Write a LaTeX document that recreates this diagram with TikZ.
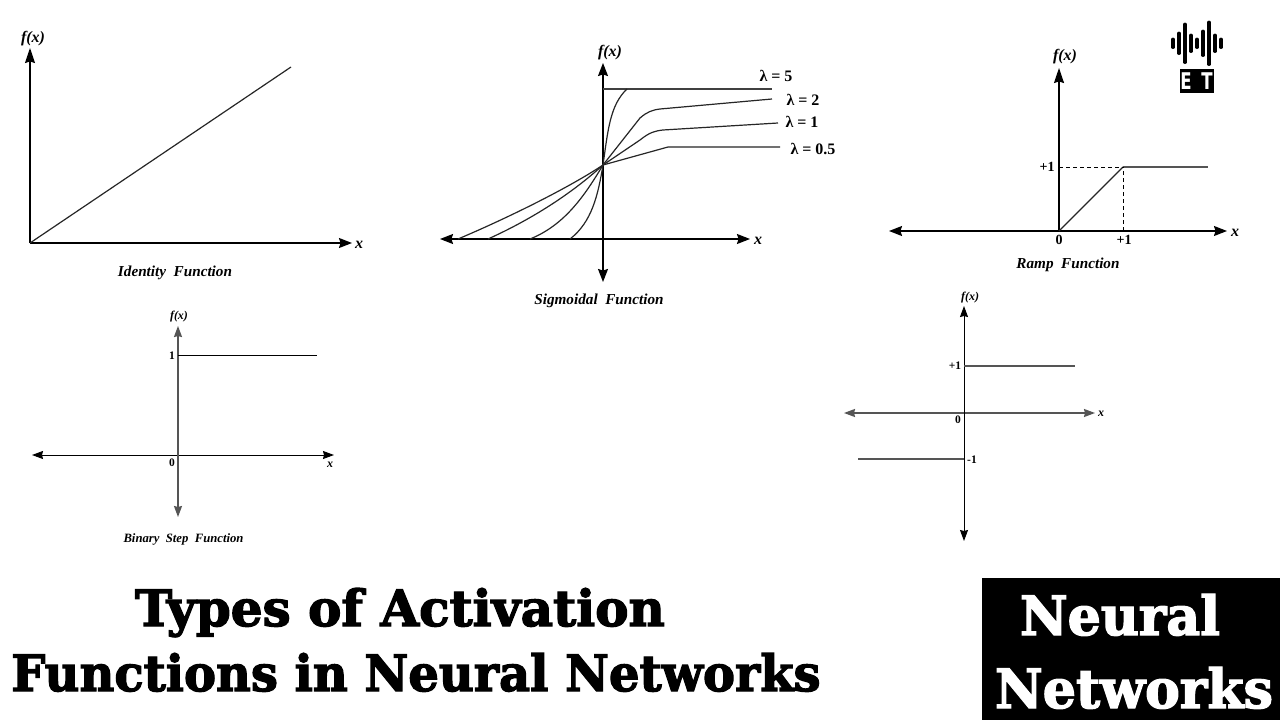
\documentclass[tikz,border=0pt]{standalone}
\usepackage{fontspec}
\setmainfont{Liberation Serif}
\newfontfamily\titlef[FakeBold=2.6]{DejaVu Serif Bold}
\newfontfamily\logof{DejaVu Sans Bold}
\usetikzlibrary{arrows.meta}
\definecolor{greyline}{HTML}{555555}
\tikzset{
  tipA/.tip={Stealth[length=13pt,width=10pt,inset=1.5pt]},
  tipB/.tip={Stealth[length=15pt,width=10pt,inset=1.5pt]},
  tipC/.tip={Stealth[length=11pt,width=8pt,inset=1pt]},
  axisboth/.style={draw=black,line width=1.3pt,tipA-tipA},
  axisup/.style={draw=black,line width=1.3pt,-tipB},
  axisr/.style={draw=black,line width=1.3pt,-tipA},
  axisg/.style={draw=greyline,line width=1.6pt,tipC-tipC},
  axisthin/.style={draw=black,line width=.9pt,tipC-tipC},
  curveline/.style={draw=black!85,line width=1.2pt},
  flatline/.style={draw=greyline,line width=1.4pt},
  guideline/.style={draw=black,line width=1pt,dash pattern=on 4pt off 3pt},
  captext/.style={font=\bfseries\itshape\fontsize{15.2}{15}\selectfont,inner sep=0pt},
  smallcap/.style={font=\bfseries\itshape\fontsize{12.7}{13}\selectfont,inner sep=0pt},
  labtext/.style={font=\bfseries\itshape\fontsize{16}{16}\selectfont,inner sep=0pt},
  smalllab/.style={font=\bfseries\itshape\fontsize{12}{12}\selectfont,inner sep=0pt},
  numtext/.style={font=\bfseries\fontsize{14}{14}\selectfont,inner sep=0pt},
  smallnum/.style={font=\bfseries\fontsize{11.5}{12}\selectfont,inner sep=0pt},
  lamtext/.style={font=\bfseries\fontsize{16}{16}\selectfont,inner sep=0pt},
  logobar/.style={draw=black,line width=3.4pt,line cap=round},
  logotext/.style={font=\logof\fontsize{23}{23}\selectfont,text=white,inner sep=0pt,xscale=.72,transform shape},
  titletext/.style={font=\titlef\fontsize{50}{50}\selectfont,text=black,inner sep=0pt,anchor=base,transform shape},
  boxtext/.style={font=\titlef\fontsize{54}{54}\selectfont,text=white,inner sep=0pt,anchor=base,xscale=.967,transform shape},
}
\begin{document}
\begin{tikzpicture}[x=1pt,y=-1pt]
\useasboundingbox (0,0) rectangle (1280,720);
\fill[white] (0,0) rectangle (1280,720);

% Identity
\coordinate (iO) at (30,243); \coordinate (iT) at (30,48); \coordinate (iR) at (352,243); \coordinate (iE) at (291,67);
\draw[axisup] (iO) -- (iT);
\draw[axisr] (iO) -- (iR);
\draw[curveline] (iO) -- (iE);
\node[labtext] (ifx) at (33,39) {f(x)};
\node[labtext] (ix) at (359,245) {x};
\node[captext] (icap) at (175,272.5) {Identity\ \ Function};

% Sigmoid
\coordinate (sO) at (603,165); \coordinate (sT) at (603,63); \coordinate (sB) at (603,282);
\coordinate (sL) at (440,239); \coordinate (sR) at (750,239);
\draw[axisboth] (sL) -- (sR);
\draw[axisboth] (sB) -- (sT);
\coordinate (a5) at (603,89); \coordinate (b5) at (772,89);
\draw[flatline,draw=black!75] (a5) -- (b5);
\coordinate (c5a) at (570,239); \coordinate (c5b) at (627,89);
\draw[curveline] (c5a) .. controls (592,222) and (598,195) .. (sO) .. controls (608,130) and (610,105) .. (c5b);
\coordinate (c2a) at (530,239); \coordinate (c2b) at (660,109); \coordinate (c2c) at (772,99);
\draw[curveline] (c2a) .. controls (565,225) and (585,195) .. (sO) -- (640,118) .. controls (647,112) and (652,110) .. (c2b) -- (c2c);
\coordinate (c1a) at (488,239); \coordinate (c1b) at (663,130); \coordinate (c1c) at (778,123);
\draw[curveline] (c1a) .. controls (530,220) and (570,195) .. (sO) -- (640,140) .. controls (650,132) and (655,131) .. (c1b) -- (c1c);
\coordinate (c0a) at (458,239); \coordinate (c0b) at (668,147); \coordinate (c0c) at (780,147);
\draw[curveline] (c0a) .. controls (510,217) and (570,187) .. (sO) -- (c0b) -- (c0c);
\node[labtext] (sfx) at (610,52.5) {f(x)};
\node[labtext] (sx) at (758,241) {x};
\node[lamtext] (l5) at (776,76) {λ = 5};
\node[lamtext] (l2) at (803,100) {λ = 2};
\node[lamtext] (l1) at (802,122) {λ = 1};
\node[lamtext] (l0) at (813,149) {λ = 0.5};
\node[captext] (scap) at (599,300.5) {Sigmoidal\ \ Function};

% Ramp
\coordinate (rO) at (1059,231); \coordinate (rT) at (1059,68); \coordinate (rL) at (889,231); \coordinate (rR) at (1227,231);
\coordinate (rK) at (1123,167); \coordinate (rY) at (1059,167); \coordinate (rX) at (1123,231); \coordinate (rE) at (1208,167);
\draw[axisboth] (rL) -- (rR);
\draw[axisup] (rO) -- (rT);
\draw[curveline] (rO) -- (rK);
\draw[flatline] (rK) -- (rE);
\draw[guideline] (rY) -- (rK);
\draw[guideline] (rX) -- (rK);
\node[labtext] (rfx) at (1065,57) {f(x)};
\node[labtext] (rx) at (1235,233) {x};
\node[numtext] (rp1) at (1047,167) {+1};
\node[numtext] (r0) at (1059,240) {0};
\node[numtext] (rq1) at (1124,240) {+1};
\node[captext] (rcap) at (1068,265) {Ramp\ \ Function};

% Binary step
\coordinate (bO) at (178,455); \coordinate (bT) at (178,326); \coordinate (bB) at (178,517);
\coordinate (bL) at (32,455); \coordinate (bR) at (334,455); \coordinate (bY) at (178,355); \coordinate (bE) at (317,355);
\draw[axisthin] (bL) -- (bR);
\draw[axisg] (bB) -- (bT);
\draw[draw=black,line width=1pt] (bY) -- (bE);
\node[smalllab] (bfx) at (179,316.5) {f(x)};
\node[smalllab] (bx) at (330,465) {x};
\node[smallnum] (b1) at (172,356) {1};
\node[smallnum] (b0) at (172,463) {0};
\node[smallcap] (bcap) at (183.5,539.5) {Binary\ \ Step\ \ Function};

% Signum
\coordinate (gO) at (964,413); \coordinate (gT) at (964,306); \coordinate (gB) at (964,541);
\coordinate (gL) at (844,413); \coordinate (gR) at (1095,413);
\coordinate (gY) at (964,366); \coordinate (gE) at (1075,366); \coordinate (gN) at (964,459); \coordinate (gM) at (858,459);
\draw[axisg] (gL) -- (gR);
\draw[axisthin] (gB) -- (gT);
\draw[flatline] (gY) -- (gE);
\draw[flatline] (gN) -- (gM);
\node[smalllab] (gfx) at (970,298) {f(x)};
\node[smalllab] (gx) at (1101,414) {x};
\node[smallnum] (gp) at (955,366) {+1};
\node[smallnum] (g0) at (958,420) {0};
\node[smallnum] (gm) at (972,460) {-1};

% Logo
\foreach \x/\h in {1173/4,1179/10,1185/19,1191/8,1197/4,1203/12,1209/21,1215/8,1221/4}
  \draw[logobar] (\x,{43.3-\h}) -- (\x,{43.3+\h});
\fill[black] (1180,69) rectangle (1214,93);
\node[logotext] (loge) at (1186,81) {E};
\node[logotext] (logt) at (1207,81) {T};

% Titles
\node[titletext] (t1) at (400,626) {Types of Activation};
\node[titletext,xscale=.96] (t2) at (416,691) {Functions in Neural Networks};

% Badge
\fill[black] (982,578) rectangle (1280,720);
\node[boxtext] (n1) at (1120,635) {Neural};
\node[boxtext] (n2) at (1134,708) {Networks};
\end{tikzpicture}
\end{document}
